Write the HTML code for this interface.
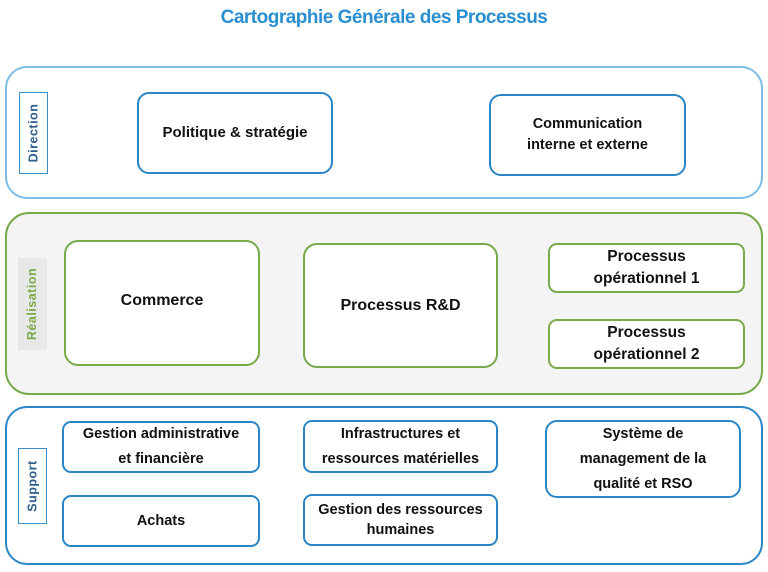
<!DOCTYPE html>
<html><head><meta charset="utf-8"><style>
body{margin:0;width:768px;height:572px;background:#fff;position:relative;overflow:hidden;font-family:"Liberation Sans",sans-serif}
.a{position:absolute;box-sizing:border-box}
.b{display:flex;align-items:center;justify-content:center;text-align:center;font-weight:bold;color:#111;font-size:14.5px;line-height:22px;background:#fff}
.bl{border:2px solid #2a86c4;border-radius:12px}
.gr{border:2px solid #78a94a;border-radius:14px}
.lab{display:flex;align-items:center;justify-content:center}
.lab span{transform:rotate(-90deg);white-space:nowrap;font-weight:bold;font-size:12.5px;letter-spacing:0.5px}
</style></head><body>
<div class="a" style="left:0;top:7px;width:768px;text-align:center;color:#2a8fd0;font-size:19px;font-weight:bold;letter-spacing:-0.5px">Cartographie Générale des Processus</div>

<div class="a" style="left:5px;top:66px;width:758px;height:133px;border:2px solid #7bbde6;border-radius:22px"></div>
<div class="a lab" style="left:19px;top:92px;width:29px;height:82px;border:1.5px solid #3a8fc8"><span style="color:#2e5c8a">Direction</span></div>
<div class="a b bl" style="left:137px;top:92px;width:196px;height:82px;font-size:15px">Politique &amp; stratégie</div>
<div class="a b bl" style="left:489px;top:94px;width:197px;height:82px;line-height:21px">Communication<br>interne et externe</div>

<div class="a" style="left:5px;top:212px;width:758px;height:183px;border:2px solid #78a94a;border-radius:24px;background:#f4f4f4"></div>
<div class="a lab" style="left:18px;top:258px;width:29px;height:92px;background:#e8e8e8"><span style="color:#78a94a">Réalisation</span></div>
<div class="a b gr" style="left:64px;top:240px;width:196px;height:126px;font-size:16px;padding-bottom:4px">Commerce</div>
<div class="a b gr" style="left:303px;top:243px;width:195px;height:125px;font-size:16px">Processus R&amp;D</div>
<div class="a b gr" style="left:548px;top:243px;width:197px;height:50px;font-size:15.5px;border-radius:9px">Processus<br>opérationnel 1</div>
<div class="a b gr" style="left:548px;top:319px;width:197px;height:50px;font-size:15.5px;border-radius:9px">Processus<br>opérationnel 2</div>

<div class="a" style="left:5px;top:406px;width:758px;height:159px;border:2px solid #2a86c4;border-radius:22px"></div>
<div class="a lab" style="left:18px;top:448px;width:29px;height:76px;border:1.5px solid #3a8fc8"><span style="color:#2e5c8a">Support</span></div>
<div class="a b bl" style="left:62px;top:421px;width:198px;height:52px;line-height:25px;border-radius:9px">Gestion administrative<br>et financière</div>
<div class="a b bl" style="left:62px;top:495px;width:198px;height:52px;border-radius:9px">Achats</div>
<div class="a b bl" style="left:303px;top:420px;width:195px;height:53px;line-height:25px;border-radius:9px">Infrastructures et<br>ressources matérielles</div>
<div class="a b bl" style="left:303px;top:494px;width:195px;height:52px;line-height:20px;border-radius:9px">Gestion des ressources<br>humaines</div>
<div class="a b bl" style="left:545px;top:420px;width:196px;height:78px;line-height:25px;border-radius:12px">Système de<br>management de la<br>qualité et RSO</div>
</body></html>
